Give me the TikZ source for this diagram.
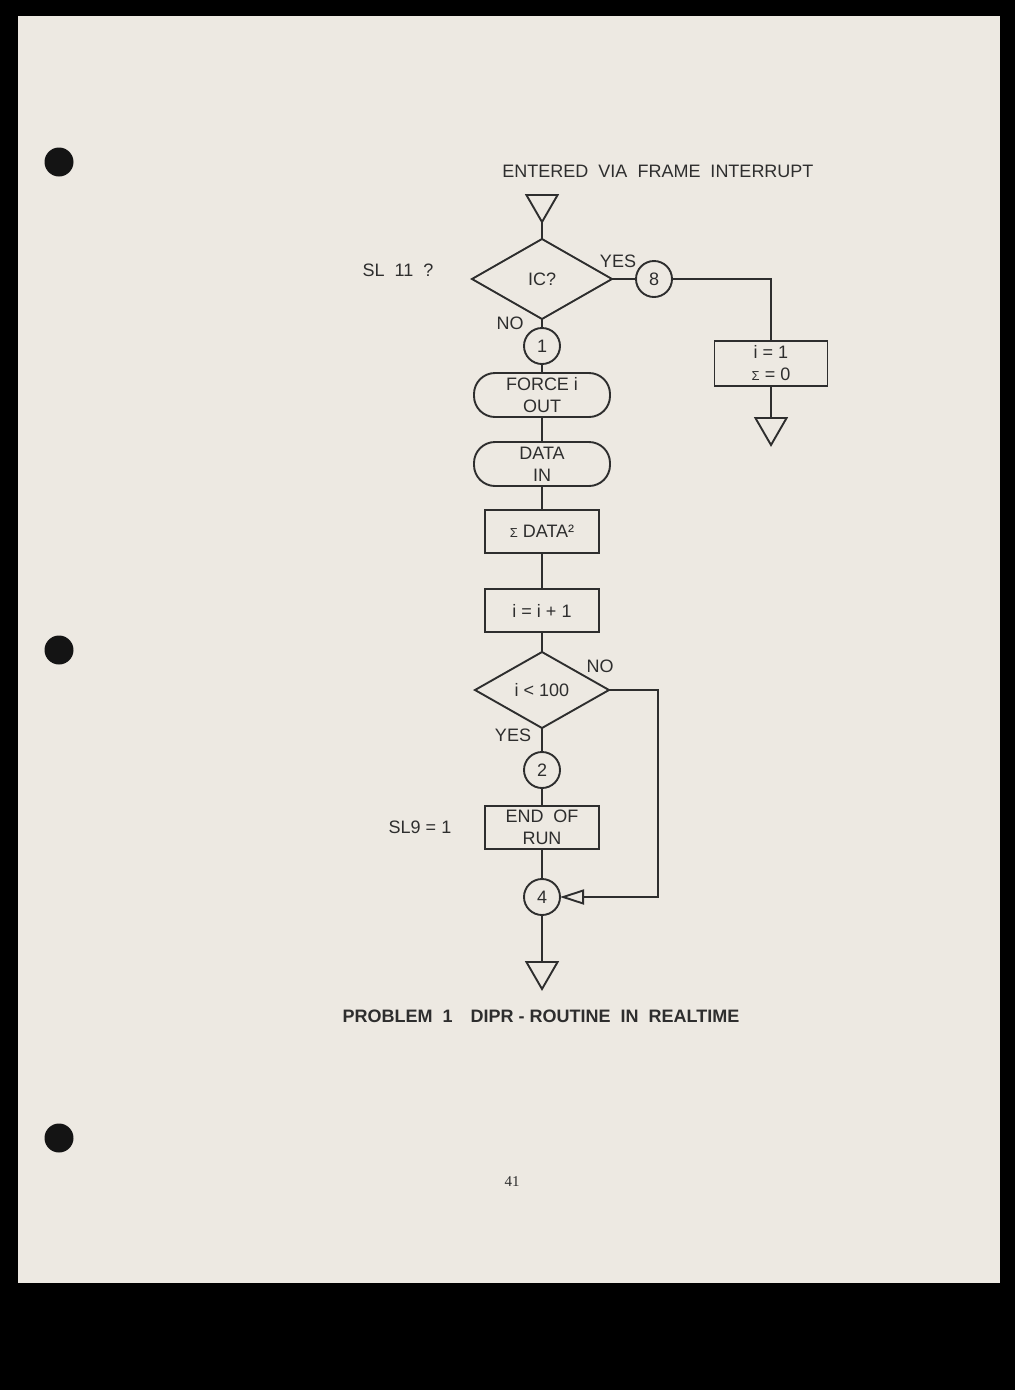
\documentclass[tikz,border=0pt]{standalone}
\usepackage{fontspec}
\setmainfont{Liberation Sans}
\newfontfamily\folio{Liberation Serif}
\usetikzlibrary{positioning,shapes,arrows.meta,calc}
\definecolor{paper}{HTML}{EDE9E2}
\definecolor{ink}{HTML}{2E2E2E}
\newcommand{\flowfont}{\fontsize{18}{22}\selectfont}
\newcommand{\smallsig}{{\fontsize{13}{13}\selectfont Σ}}

\begin{document}
\begin{tikzpicture}[x=1pt,y=-1pt,
  every node/.style={font=\flowfont, text=ink},
  flow/.style={draw=ink, line width=1.9pt, inner sep=0pt, outer sep=0pt, align=center},
  box/.style={flow, rectangle, minimum width=114pt, minimum height=43pt},
  term/.style={flow, rectangle, rounded corners=21pt, minimum width=136pt, minimum height=44pt},
  decide/.style={flow, diamond, minimum width=140pt, minimum height=80pt},
  conn/.style={flow, circle, minimum size=36pt},
  flowtri/.style={flow, regular polygon, regular polygon sides=3, shape border rotate=180, minimum size=36pt},
  wire/.style={draw=ink, line width=1.9pt}]
\useasboundingbox (0,0) rectangle (1015,1390);
\fill[black] (0,0) rectangle (1015,1390);
\fill[paper] (18,16) rectangle (1000,1283);
\foreach \hy in {162,650,1138}
  \fill[black!92] (59,\hy) circle[radius=14.5pt];

% main column
\node[flowtri, anchor=north] (entry) at (542,195) {};
\node[decide, below=17pt of entry] (ic) {IC?};
\node[conn, below=9pt of ic] (c1) {1};
\node[term, below=9pt of c1] (force) {FORCE i\\OUT};
\node[term, below=25pt of force] (datain) {DATA\\IN};
\node[box, below=24pt of datain] (sumsq) {\smallsig\ DATA²};
\node[box, below=36pt of sumsq] (incr) {i = i + 1};
\node[decide, minimum width=134pt, minimum height=76pt, below=20pt of incr] (test) {i < 100};
\node[conn, below=24pt of test] (c2) {2};
\node[box, below=18pt of c2] (endrun) {END\ \ OF\\RUN};
\node[conn, below=30pt of endrun] (c4) {4};
\node[flowtri, below=47pt of c4] (exit) {};

% yes branch
\node[conn, right=24pt of ic] (c8) {8};
\node[box, minimum width=113pt, minimum height=45pt] (init) at (771,363.5) {i = 1\\\smallsig\ = 0};
\node[flowtri, below=32pt of init] (exitr) {};
\coordinate[right=49pt of test.east] (turn);

% labels
\node (entered) at (658,171) {ENTERED\ \ VIA\ \ FRAME\ \ INTERRUPT};
\node (sl11) at (398,270) {SL\ \ 11\ \ ?};
\node (yes1) at (618,261) {YES};
\node (no1) at (510,323) {NO};
\node (no2) at (600,666) {NO};
\node (yes2) at (513,735) {YES};
\node (sl9) at (420,827) {SL9 = 1};
\node[font=\flowfont\bfseries] (caption) at (541,1016) {PROBLEM\ \ 1\quad DIPR - ROUTINE\ \ IN\ \ REALTIME};
\node[font=\folio\fontsize{15}{17}\selectfont] (pageno) at (512,1182) {41};

\draw[wire] (entry.south) -- (ic.north);
\draw[wire] (ic.south) -- (c1.north);
\draw[wire] (c1.south) -- (force.north);
\draw[wire] (force.south) -- (datain.north);
\draw[wire] (datain.south) -- (sumsq.north);
\draw[wire] (sumsq.south) -- (incr.north);
\draw[wire] (incr.south) -- (test.north);
\draw[wire] (test.south) -- (c2.north);
\draw[wire] (c2.south) -- (endrun.north);
\draw[wire] (endrun.south) -- (c4.north);
\draw[wire] (c4.south) -- (exit.north);
\draw[wire] (ic.east) -- (c8.west);
\draw[wire] (c8.east) -| (init.north);
\draw[wire] (init.south) -- (exitr.north);
\draw[wire, -{Triangle[open, length=24pt, width=15pt]}] (test.east) -- (turn) |- (c4.east);
\end{tikzpicture}
\end{document}
